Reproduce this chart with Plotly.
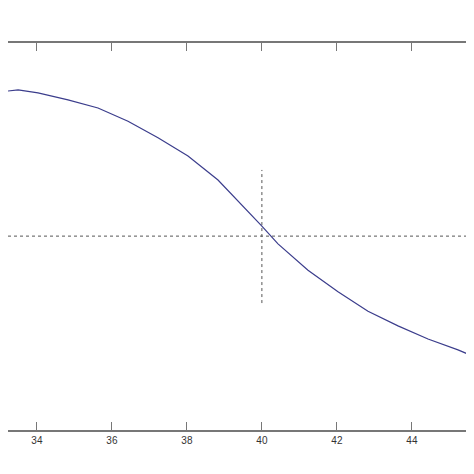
import plotly.graph_objects as go

# curve (x in axis units, y normalised 0..1 of plot height)
curve_x = [33.23, 33.50, 34.03, 34.83, 35.63, 36.43, 37.23, 38.03, 38.83, 39.63, 40.00,
           40.43, 41.23, 42.03, 42.83, 43.63, 44.43, 45.23, 45.87]
curve_y = [0.876, 0.879, 0.871, 0.853, 0.832, 0.798, 0.755, 0.708, 0.646, 0.566, 0.527,
           0.481, 0.413, 0.357, 0.307, 0.269, 0.235, 0.207, 0.181]

hline_x = [33.23, 45.87]
hline_y = [0.501, 0.501]
vline_x = [40, 40]
vline_y = [0.328, 0.672]

fig = go.Figure()
fig.add_trace(go.Scatter(x=curve_x, y=curve_y, mode="lines", line=dict(color="#3b3d8c", width=1.2)))
fig.add_trace(go.Scatter(x=hline_x, y=hline_y, mode="lines", line=dict(color="#555555", width=1, dash="dot")))
fig.add_trace(go.Scatter(x=vline_x, y=vline_y, mode="lines", line=dict(color="#555555", width=1, dash="dot")))

fig.update_layout(
    width=474, height=474, showlegend=False,
    margin=dict(l=0, r=0, t=35, b=52, pad=0),
    plot_bgcolor="white", paper_bgcolor="white",
    font=dict(family="Liberation Sans, Arial", size=10, color="#333333"),
)
fig.update_xaxes(range=[33.23, 45.87], tickvals=[34, 36, 38, 40, 42, 44], ticks="inside", ticklen=8,
                 tickcolor="#777777", showline=True, linecolor="#777777", linewidth=1.5, mirror="ticks",
                 showgrid=False, zeroline=False, automargin=False)
fig.update_yaxes(range=[0, 1], showticklabels=False, showgrid=False, zeroline=False, showline=False,
                 automargin=False)
fig.write_html("out.html")
